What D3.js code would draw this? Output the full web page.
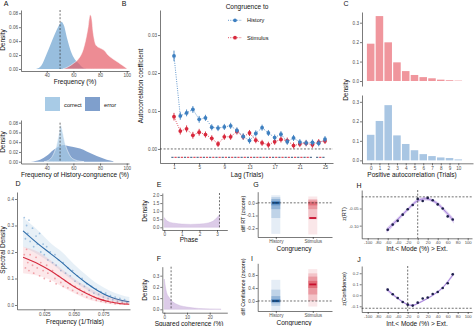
<!DOCTYPE html>
<html>
<head>
<meta charset="utf-8">
<script src="https://cdn.jsdelivr.net/npm/d3@7"></script>
<style>
body { margin: 0; background: #fff; }
svg { font-family: "Liberation Sans", Arial, sans-serif; }
.tick text { fill: #4d4d4d; font-size: 4.6px; }
.domain, .tick line { stroke: #222; stroke-width: 0.6; }
.ttl { font-size: 6.5px; fill: #111; }
.lab { font-size: 7px; fill: #111; }
</style>
</head>
<body>
<svg id="fig" width="474" height="326"></svg>
<script>
// ---------- data ----------
// A (top): frequency of history / stimulus congruence
var aHistoryX = [32, 36, 40, 43, 46, 49, 51, 53, 55, 57, 59, 61, 64, 67, 70];
var aHistoryY = [0, 0.005, 0.022, 0.036, 0.05, 0.062, 0.068, 0.062, 0.046, 0.032, 0.021, 0.014, 0.008, 0.002, 0];
var aStimulusX = [52, 56, 60, 64, 67, 69, 71, 72.5, 73.5, 75, 77, 80, 83, 86, 90, 94, 97, 100];
var aStimulusY = [0, 0.003, 0.008, 0.015, 0.026, 0.04, 0.06, 0.078, 0.075, 0.05, 0.034, 0.03, 0.027, 0.02, 0.014, 0.009, 0.005, 0.001];
// A (bottom): correct vs error
var aCorrectX = [38, 42, 45, 47, 49, 50.5, 52, 54, 56, 58, 61, 65, 68];
var aCorrectY = [0, 0.004, 0.015, 0.03, 0.055, 0.075, 0.06, 0.035, 0.02, 0.01, 0.004, 0.001, 0];
var aErrorX = [28, 35, 40, 45, 50, 53, 56, 60, 65, 70, 75, 80, 85, 90];
var aErrorY = [0, 0.004, 0.012, 0.024, 0.032, 0.034, 0.032, 0.03, 0.027, 0.021, 0.015, 0.009, 0.004, 0.001];

// B: autocorrelation per lag
var lags = [1, 2, 3, 4, 5, 6, 7, 8, 9, 10, 11, 12, 13, 14, 15, 16, 17, 18, 19, 20, 21, 22, 23, 24, 25];
var bHistory = [0.0245, 0.0087, 0.0095, 0.0104, 0.0078, 0.0082, 0.0057, 0.0055, 0.0058, 0.0061, 0.0049, 0.0033, 0.0022,
    0.0041, 0.0056, 0.0042, 0.0030, 0.0039, 0.0019, 0.0029, 0.0018, 0.0016, 0.0017, 0.0015, 0.0026];
var bHistoryErr = [0.0014, 0.0010, 0.0009, 0.0009, 0.0009, 0.0008, 0.0008, 0.0008, 0.0008, 0.0008, 0.0008, 0.0008, 0.0008,
    0.0008, 0.0008, 0.0008, 0.0008, 0.0008, 0.0008, 0.0008, 0.0008, 0.0008, 0.0008, 0.0008, 0.0008];
var bStimulus = [0.0085, 0.0047, 0.0053, 0.0036, 0.0044, 0.0038, 0.0028, 0.0013, 0.0032, 0.0032, 0.0046, 0.0032, 0.0042,
    0.0023, 0.0016, 0.0011, 0.0019, 0.0025, 0.0022, 0.0009, 0.0013, 0.0015, 0.0011, 0.0018, 0.0021];
var bStimulusErr = [0.0010, 0.0009, 0.0009, 0.0009, 0.0009, 0.0008, 0.0008, 0.0008, 0.0008, 0.0008, 0.0008, 0.0008, 0.0008,
    0.0008, 0.0008, 0.0008, 0.0008, 0.0008, 0.0008, 0.0008, 0.0008, 0.0008, 0.0008, 0.0008, 0.0008];
var bHistorySig = [1, 2, 3, 4, 5, 6, 7, 8, 9, 10, 11, 12, 13, 14, 15, 16, 17, 18, 19, 20, 21, 22, 23, 24, 25];
var bStimulusSig = [1, 2, 3, 4, 5, 6, 7, 8, 9, 10, 11, 12, 13, 14, 15, 16, 17, 18, 19, 20, 21, 22, 24];

// C: positive autocorrelation run lengths
var cBins = [0, 1, 2, 3, 4, 5, 6, 7, 8, 9, 10];
var cStimulus = [0.192, 0.334, 0.199, 0.096, 0.051, 0.031, 0.020, 0.014, 0.007, 0.004, 0.002];
var cHistory = [0.131, 0.202, 0.283, 0.128, 0.084, 0.052, 0.032, 0.022, 0.015, 0.012, 0.005];

// D: spectral density
var dFreq = [0.007, 0.02, 0.03, 0.04, 0.05, 0.06, 0.07, 0.08, 0.09, 0.097];
var dHistoryFit = [0.28, 0.23, 0.195, 0.16, 0.12, 0.085, 0.055, 0.032, 0.018, 0.012];
var dHistoryLo = [0.22, 0.19, 0.16, 0.125, 0.09, 0.06, 0.035, 0.018, 0.008, 0.004];
var dHistoryHi = [0.33, 0.28, 0.235, 0.2, 0.155, 0.115, 0.08, 0.055, 0.038, 0.03];
var dStimulusFit = [0.18, 0.155, 0.13, 0.1, 0.07, 0.045, 0.025, 0.012, 0.005, 0.003];
var dStimulusLo = [0.12, 0.11, 0.095, 0.07, 0.045, 0.025, 0.012, 0.004, 0.0, 0.0];
var dStimulusHi = [0.22, 0.2, 0.17, 0.135, 0.1, 0.072, 0.048, 0.03, 0.02, 0.015];
var dHistoryPts = [[0.008, 0.33], [0.009, 0.25], [0.010, 0.30], [0.011, 0.27], [0.012, 0.32], [0.013, 0.24], [0.015, 0.29],
    [0.016, 0.22], [0.018, 0.26], [0.019, 0.23], [0.021, 0.27], [0.022, 0.20], [0.024, 0.23], [0.025, 0.19], [0.027, 0.22],
    [0.028, 0.17], [0.030, 0.20], [0.032, 0.16], [0.034, 0.19], [0.035, 0.15], [0.037, 0.17], [0.039, 0.13], [0.041, 0.16],
    [0.043, 0.12], [0.045, 0.14], [0.047, 0.11], [0.049, 0.13], [0.051, 0.09], [0.053, 0.11], [0.055, 0.08], [0.057, 0.10],
    [0.059, 0.07], [0.061, 0.08], [0.063, 0.055], [0.065, 0.07], [0.067, 0.045], [0.069, 0.06], [0.071, 0.04], [0.073, 0.05],
    [0.075, 0.03], [0.077, 0.045], [0.079, 0.025], [0.081, 0.035], [0.083, 0.02], [0.085, 0.03], [0.087, 0.015],
    [0.089, 0.025], [0.091, 0.012], [0.093, 0.02], [0.095, 0.01]];
var dStimulusPts = [[0.008, 0.19], [0.009, 0.14], [0.010, 0.21], [0.011, 0.16], [0.012, 0.13], [0.013, 0.19], [0.015, 0.15],
    [0.016, 0.12], [0.018, 0.18], [0.019, 0.14], [0.021, 0.11], [0.022, 0.16], [0.024, 0.13], [0.025, 0.10], [0.027, 0.15],
    [0.028, 0.12], [0.030, 0.09], [0.032, 0.13], [0.034, 0.10], [0.035, 0.08], [0.037, 0.11], [0.039, 0.085], [0.041, 0.07],
    [0.043, 0.09], [0.045, 0.065], [0.047, 0.08], [0.049, 0.055], [0.051, 0.07], [0.053, 0.045], [0.055, 0.06], [0.057, 0.04],
    [0.059, 0.05], [0.061, 0.03], [0.063, 0.04], [0.065, 0.025], [0.067, 0.032], [0.069, 0.018], [0.071, 0.026],
    [0.073, 0.014], [0.075, 0.02], [0.077, 0.01], [0.079, 0.016], [0.081, 0.008], [0.083, 0.012], [0.085, 0.005],
    [0.087, 0.01], [0.089, 0.004], [0.091, 0.008], [0.093, 0.003], [0.095, 0.006]];

// E: phase density, F: squared coherence density
var ePhase = [0, 0.1, 0.3, 0.6, 1.0, 1.5, 2.0, 2.5, 2.8, 3.0, 3.14];
var eDensity = [0.6, 0.45, 0.32, 0.25, 0.2, 0.18, 0.2, 0.27, 0.4, 0.6, 0.78];
var fCoherence = [0, 0.5, 1, 2, 3, 5, 7, 10, 15, 20, 25];
var fDensity = [0.27, 0.2, 0.15, 0.11, 0.08, 0.05, 0.033, 0.02, 0.008, 0.003, 0.001];

// G / I: congruency strips (nested intervals, outer to inner) and means
var congruency = ["History", "Stimulus"];
var gHistoryIntervals = [[-0.245, 0.06], [-0.12, 0.045], [-0.05, 0.03], [-0.02, 0.015]];
var gStimulusIntervals = [[-0.25, 0.05], [-0.13, 0.03], [-0.05, 0.02], [-0.02, 0.008]];
var gMeans = [0.0, -0.12];
var iHistoryIntervals = [[-0.3, 0.65], [-0.15, 0.35], [-0.07, 0.15], [-0.03, 0.06]];
var iStimulusIntervals = [[-0.17, 0.98], [0.0, 0.85], [0.2, 0.75], [0.4, 0.62]];
var iMeans = [0.0, 0.51];

// H / J: mode of perception
var modeX = [-60, -50, -40, -30, -20, -10, 0, 10, 20, 30, 40, 50, 60, 70];
var hRT = [-0.112, -0.097, -0.086, -0.068, -0.052, -0.040, -0.022, -0.028, -0.019, -0.026, -0.038, -0.050, -0.073, -0.082];
var hFitX = [-62, -40, -20, -5, 5, 20, 40, 55, 72];
var hFitY = [-0.114, -0.082, -0.053, -0.032, -0.024, -0.022, -0.036, -0.058, -0.086];
var hFitSE = [0.008, 0.006, 0.005, 0.005, 0.005, 0.005, 0.005, 0.006, 0.008];
var jConf = [0.051, 0.009, -0.025, -0.061, -0.085, -0.094, -0.067, -0.03, -0.02, 0.012, 0.03, 0.066, 0.109, 0.19];
var jFitX = [-62, -45, -30, -20, -10, 0, 15, 30, 50, 72];
var jFitY = [0.055, -0.01, -0.06, -0.085, -0.092, -0.075, -0.04, 0.0, 0.07, 0.195];
var jFitSE = [0.016, 0.01, 0.008, 0.008, 0.008, 0.008, 0.008, 0.008, 0.01, 0.016];

// ---------- helpers ----------
var svg = d3.select("#fig");
var dash = function (f) { return function (d) { return d3.format(f)(d).replace("\u2212", "-"); }; };

function xAxis(scale, y, ticks, fmt) {
    return svg.append("g").attr("transform", "translate(0," + y + ")")
        .call(d3.axisBottom(scale).tickValues(ticks).tickFormat(fmt).tickSize(2).tickSizeOuter(0).tickPadding(1));
}
function yAxis(scale, x, ticks, fmt) {
    return svg.append("g").attr("transform", "translate(" + x + ",0)")
        .call(d3.axisLeft(scale).tickValues(ticks).tickFormat(fmt).tickSize(2).tickSizeOuter(0).tickPadding(1));
}
function label(x, y, str, cls, rot) {
    var t = svg.append("text").attr("class", cls || "ttl").attr("text-anchor", "middle").text(str);
    if (rot) t.attr("transform", "translate(" + x + "," + y + ") rotate(-90)");
    else t.attr("x", x).attr("y", y);
    return t;
}
function dashed(x1, y1, x2, y2) {
    svg.append("line").attr("x1", x1).attr("y1", y1).attr("x2", x2).attr("y2", y2)
        .attr("stroke", "#333").attr("stroke-width", 0.7).attr("stroke-dasharray", "2,1.6");
}

// ---------- A ----------
var ax = d3.scaleLinear().domain([20.7, 101.7]).range([21, 129]);
var ayT = d3.scaleLinear().domain([-0.0029, 0.0847]).range([71, 10]);
var ayB = d3.scaleLinear().domain([-0.0037, 0.0855]).range([163.5, 120]);

function densityArea(yScale) {
    return d3.area().x(function (d) { return ax(d[0]); }).y0(yScale(0))
        .y1(function (d) { return yScale(d[1]); }).curve(d3.curveMonotoneX);
}
svg.append("path").datum(d3.zip(aHistoryX, aHistoryY)).attr("d", densityArea(ayT))
    .attr("fill", "#7eaed6").attr("fill-opacity", 0.8);
svg.append("path").datum(d3.zip(aStimulusX, aStimulusY)).attr("d", densityArea(ayT))
    .attr("fill", "#e55b67").attr("fill-opacity", 0.7).attr("stroke", "#fff").attr("stroke-width", 0.5);
dashed(ax(50), ayT(0.0847), ax(50), ayT(0));
xAxis(ax, 71, [40, 60, 80, 100], d3.format("d"));
yAxis(ayT, 21, [0, 0.02, 0.04, 0.06, 0.08], dash(".2f"));
label(75, 84, "Frequency (%)");
label(5, 40, "Density", "ttl", true);
label(6, 6, "A", "lab");

svg.append("path").datum(d3.zip(aErrorX, aErrorY)).attr("d", densityArea(ayB))
    .attr("fill", "#6f93c6").attr("fill-opacity", 0.85);
svg.append("path").datum(d3.zip(aCorrectX, aCorrectY)).attr("d", densityArea(ayB))
    .attr("fill", "#a8cbe6").attr("fill-opacity", 0.7).attr("stroke", "#fff").attr("stroke-width", 0.5);
dashed(ax(50), ayB(0.08), ax(50), ayB(0));
xAxis(ax, 163.5, [40, 60, 80, 100], d3.format("d"));
yAxis(ayB, 21, [0, 0.02, 0.04, 0.06, 0.08], dash(".2f"));
label(75, 177, "Frequency of History-congruence (%)");
label(5, 142, "Density", "ttl", true);

// legend for A bottom
svg.append("rect").attr("x", 45).attr("y", 97).attr("width", 15).attr("height", 14).attr("fill", "#a8cbe6");
svg.append("text").attr("class", "ttl").attr("x", 64).attr("y", 106.5).style("font-size", "5.8px").text("correct");
svg.append("rect").attr("x", 85).attr("y", 97).attr("width", 15).attr("height", 14).attr("fill", "#7f9fcc");
svg.append("text").attr("class", "ttl").attr("x", 104).attr("y", 106.5).style("font-size", "5.8px").text("error");

// ---------- B ----------
var bx = d3.scaleLinear().domain([-1.225, 26.27]).range([160, 333]);
var by = d3.scaleLinear().domain([-0.0037, 0.0366]).range([163, 10]);
var blue = "#3d7fc0", red = "#d8283c";

dashed(160, by(0), 333, by(0));
svg.selectAll(".sigH").data(bHistorySig).enter().append("rect")
    .attr("x", function (d) { return bx(d - 0.25) - 1.1; }).attr("y", by(-0.0022) - 0.5)
    .attr("width", 2.2).attr("height", 1).attr("fill", "#33557a");
svg.selectAll(".sigS").data(bStimulusSig).enter().append("rect")
    .attr("x", function (d) { return bx(d + 0.25) - 1.1; }).attr("y", by(-0.0022) - 0.5)
    .attr("width", 2.2).attr("height", 1).attr("fill", red);

function lagSeries(vals, errs, col) {
    var pts = lags.map(function (l, i) { return { lag: l, v: vals[i], e: errs[i] }; });
    svg.append("path").datum(pts)
        .attr("d", d3.line().x(function (d) { return bx(d.lag); }).y(function (d) { return by(d.v); }))
        .attr("fill", "none").attr("stroke", col).attr("stroke-width", 0.8).attr("stroke-dasharray", "1,1.3");
    svg.selectAll(null).data(pts).enter().append("line")
        .attr("x1", function (d) { return bx(d.lag); }).attr("x2", function (d) { return bx(d.lag); })
        .attr("y1", function (d) { return by(d.v - d.e); }).attr("y2", function (d) { return by(d.v + d.e); })
        .attr("stroke", col).attr("stroke-width", 0.9);
    svg.selectAll(null).data(pts).enter().append("circle")
        .attr("cx", function (d) { return bx(d.lag); }).attr("cy", function (d) { return by(d.v); })
        .attr("r", 1.9).attr("fill", col);
}
lagSeries(bStimulus, bStimulusErr, red);
lagSeries(bHistory, bHistoryErr, blue);

xAxis(bx, 163, [1, 5, 9, 13, 17, 21, 25], d3.format("d"));
yAxis(by, 160, [0, 0.01, 0.02, 0.03], dash(".2f"));
label(247, 177, "Lag (Trials)");
label(143, 86, "Autocorrelation coefficient", "ttl", true);
label(124, 6, "B", "lab");

// legend B
label(247, 8.5, "Congruence to");
[["History", blue, 20.3], ["Stimulus", red, 37.7]].forEach(function (s) {
    svg.append("line").attr("x1", 228).attr("x2", 242).attr("y1", s[2]).attr("y2", s[2])
        .attr("stroke", s[1]).attr("stroke-width", 0.8).attr("stroke-dasharray", "1,1.3");
    svg.append("circle").attr("cx", 235).attr("cy", s[2]).attr("r", 1.9).attr("fill", s[1]);
    svg.append("text").attr("class", "ttl").attr("x", 247).attr("y", s[2] + 2).style("font-size", "5.6px").text(s[0]);
});

// ---------- C ----------
var cx = d3.scaleLinear().domain([-0.99, 11.68]).range([362, 473]);
var cyT = d3.scaleLinear().domain([-0.0257, 0.355]).range([86, 12]);
var cyB = d3.scaleLinear().domain([-0.015, 0.335]).range([163.3, 95]);
var bw = cx(0.43) - cx(0);

function bars(vals, yScale, col) {
    svg.selectAll(null).data(cBins).enter().append("rect")
        .attr("x", function (d) { return cx(d) - bw; }).attr("width", bw * 2)
        .attr("y", function (d, i) { return yScale(vals[i]); })
        .attr("height", function (d, i) { return yScale(0) - yScale(vals[i]); })
        .attr("fill", col);
}
bars(cStimulus, cyT, "#f0969d");
bars(cHistory, cyB, "#a9c6e3");
yAxis(cyT, 362, [0, 0.1, 0.2, 0.3], d3.format(".1f"));
yAxis(cyB, 362, [0, 0.1, 0.2, 0.3], d3.format(".1f"));
xAxis(cx, 163.3, cBins, d3.format("d"));
label(412, 177, "Positive autocorrelation (Trials)");
label(348, 90, "Density", "ttl", true);
label(346, 6, "C", "lab");

// ---------- D ----------
var dx = d3.scaleLinear().domain([0.00186, 0.0976]).range([17, 130]);
var dy = d3.scaleLinear().domain([-0.0162, 0.4264]).range([309.3, 192]);

function spectrum(fit, lo, hi, pts, light, dark) {
    var rows = dFreq.map(function (f, i) { return { f: f, fit: fit[i], lo: lo[i], hi: hi[i] }; });
    svg.append("path").datum(rows)
        .attr("d", d3.area().x(function (d) { return dx(d.f); }).y0(function (d) { return dy(d.lo); })
            .y1(function (d) { return dy(d.hi); }).curve(d3.curveMonotoneX))
        .attr("fill", light).attr("fill-opacity", 0.16);
    svg.selectAll(null).data(pts).enter().append("circle")
        .attr("cx", function (d) { return dx(d[0]); }).attr("cy", function (d) { return dy(d[1]); })
        .attr("r", 0.9).attr("fill", light).attr("fill-opacity", 0.6);
    svg.append("path").datum(rows)
        .attr("d", d3.line().x(function (d) { return dx(d.f); }).y(function (d) { return dy(d.fit); }).curve(d3.curveMonotoneX))
        .attr("fill", "none").attr("stroke", dark).attr("stroke-width", 1.1);
}
spectrum(dHistoryFit, dHistoryLo, dHistoryHi, dHistoryPts, "#6a9fd0", "#2c6aa8");
spectrum(dStimulusFit, dStimulusLo, dStimulusHi, dStimulusPts, "#ea6f7a", "#d52a3d");
xAxis(dx, 309.3, [0.025, 0.05, 0.075], d3.format(".3f"));
yAxis(dy, 17, [0, 0.1, 0.2, 0.3, 0.4], d3.format(".1f"));
label(75, 323.5, "Frequency (1/Trials)");
label(5, 250, "Spectral Density", "ttl", true);
label(18, 186, "D", "lab");

// ---------- E ----------
var ex = d3.scaleLinear().domain([-0.114, 3.586]).range([162.3, 227.3]);
var ey = d3.scaleLinear().domain([-0.167, 2.124]).range([230, 193]);
svg.append("path").datum(d3.zip(ePhase, eDensity))
    .attr("d", d3.area().x(function (d) { return ex(d[0]); }).y0(ey(0)).y1(function (d) { return ey(d[1]); }).curve(d3.curveMonotoneX))
    .attr("fill", "#dccbe8").attr("stroke", "#c9b3dc").attr("stroke-width", 0.4);
dashed(ex(Math.PI), 193, ex(Math.PI), ey(0));
xAxis(ex, 230, [0, 1, 2, 3], d3.format("d"));
yAxis(ey, 162.3, [0, 0.5, 1, 1.5, 2], d3.format(".1f"));
label(189, 242.3, "Phase");
label(147, 211, "Density", "ttl", true);
label(159, 187, "E", "lab");

// ---------- F ----------
var fx = d3.scaleLinear().domain([-0.88, 27.75]).range([162.3, 227.3]);
var fy = d3.scaleLinear().domain([-0.03, 0.38]).range([312.7, 266.7]);
svg.append("path").datum(d3.zip(fCoherence, fDensity))
    .attr("d", d3.area().x(function (d) { return fx(d[0]); }).y0(fy(0)).y1(function (d) { return fy(d[1]); }).curve(d3.curveMonotoneX))
    .attr("fill", "#dccbe8").attr("stroke", "#c9b3dc").attr("stroke-width", 0.4);
dashed(fx(3), 266.7, fx(3), fy(0));
xAxis(fx, 312.7, [0, 10, 20], d3.format("d"));
yAxis(fy, 162.3, [0, 0.1, 0.2, 0.3], d3.format(".1f"));
label(189, 325.5, "Squared coherence (%)");
label(147, 290, "Density", "ttl", true);
label(159, 261, "F", "lab");

// ---------- G / I ----------
var gx = d3.scaleLinear().domain([-0.49, 1.52]).range([257.7, 332]);
var gy = d3.scaleLinear().domain([-0.27, 0.088]).range([237, 191.7]);
var iy = d3.scaleLinear().domain([-0.308, 1.16]).range([311, 263.3]);
var stripAlpha = [0.12, 0.2, 0.3, 0.45];

function strips(yScale, intervals, means) {
    var cols = ["#2a6db3", "#d63848"];
    intervals.forEach(function (set, k) {
        set.forEach(function (iv, j) {
            svg.append("rect").attr("x", gx(k) - 4.5).attr("width", 9)
                .attr("y", yScale(iv[1])).attr("height", yScale(iv[0]) - yScale(iv[1]))
                .attr("fill", cols[k]).attr("fill-opacity", stripAlpha[j]);
        });
        svg.append("rect").attr("x", gx(k) - 3.5).attr("width", 7)
            .attr("y", yScale(means[k]) - 0.9).attr("height", 1.8)
            .attr("fill", k ? "#c8102e" : "#0b4a8f");
    });
}
strips(gy, [gHistoryIntervals, gStimulusIntervals], gMeans);
dashed(257.7, gy(0), 332, gy(0));
xAxis(gx, 237, [0, 1], function (d) { return congruency[d]; });
yAxis(gy, 257.7, [0, -0.1, -0.2], dash(".1f"));
label(294, 251, "Congruency");
label(244.5, 214, "diff RT (zscore)", "ttl", true).style("font-size", "5.4px");
label(256, 187, "G", "lab");

strips(iy, [iHistoryIntervals, iStimulusIntervals], iMeans);
dashed(257.7, iy(0), 332, iy(0));
xAxis(gx, 311, [0, 1], function (d) { return congruency[d]; });
yAxis(iy, 257.7, [0, 0.4, 0.8], d3.format(".1f"));
label(294, 325, "Congruency");
label(244.5, 287, "diff Confidence (zscore)", "ttl", true).style("font-size", "5.4px");
label(252, 261, "I", "lab");

// ---------- H / J ----------
var hx = d3.scaleLinear().domain([-112, 108.6]).range([361.7, 472]);
var hy = d3.scaleLinear().domain([-0.137, 0.004]).range([238.3, 190]);
var jy = d3.scaleLinear().domain([-0.152, 0.266]).range([312, 266]);
var modeTicks = [-100, -80, -60, -40, -20, 0, 20, 40, 60, 80, 100];

function modePanel(yScale, vals, fitX, fitY, fitSE) {
    var fit = fitX.map(function (x, i) { return { x: x, y: fitY[i], se: fitSE[i] }; });
    svg.append("path").datum(fit)
        .attr("d", d3.area().x(function (d) { return hx(d.x); }).y0(function (d) { return yScale(d.y - d.se); })
            .y1(function (d) { return yScale(d.y + d.se); }).curve(d3.curveCatmullRom))
        .attr("fill", "#b99be3").attr("fill-opacity", 0.55);
    svg.append("path").datum(fit)
        .attr("d", d3.line().x(function (d) { return hx(d.x); }).y(function (d) { return yScale(d.y); }).curve(d3.curveCatmullRom))
        .attr("fill", "none").attr("stroke", "#9a72d6").attr("stroke-width", 0.8);
    svg.selectAll(null).data(modeX).enter().append("circle")
        .attr("cx", function (d) { return hx(d); }).attr("cy", function (d, i) { return yScale(vals[i]); })
        .attr("r", 1.3).attr("fill", "#1d1f4a");
}
modePanel(hy, hRT, hFitX, hFitY, hFitSE);
dashed(361.7, hy(-0.016), 472, hy(-0.016));
dashed(hx(0), hy(0.004), hx(0), hy(-0.137));
xAxis(hx, 238.3, modeTicks, dash("d")).selectAll("text").style("font-size", "4.2px");
yAxis(hy, 361.7, [-0.05, -0.1], dash(".2f")).selectAll("text").style("font-size", "4.3px");
label(417, 251, "Int.< Mode (%) > Ext.");
label(346, 214, "z(RT)", "ttl", true).style("font-size", "5.4px");
label(359, 188, "H", "lab");

modePanel(jy, jConf, jFitX, jFitY, jFitSE);
dashed(361.7, jy(-0.118), 472, jy(-0.118));
dashed(hx(-20), jy(0.266), hx(-20), jy(-0.152));
xAxis(hx, 312, modeTicks, dash("d")).selectAll("text").style("font-size", "4.2px");
yAxis(jy, 361.7, [-0.1, 0, 0.1, 0.2], dash(".1f")).selectAll("text").style("font-size", "4.3px");
label(417, 325.5, "Int.< Mode (%) > Ext.");
label(346, 289, "z(Confidence)", "ttl", true).style("font-size", "5.4px");
label(359, 262, "J", "lab");
</script>
</body>
</html>
